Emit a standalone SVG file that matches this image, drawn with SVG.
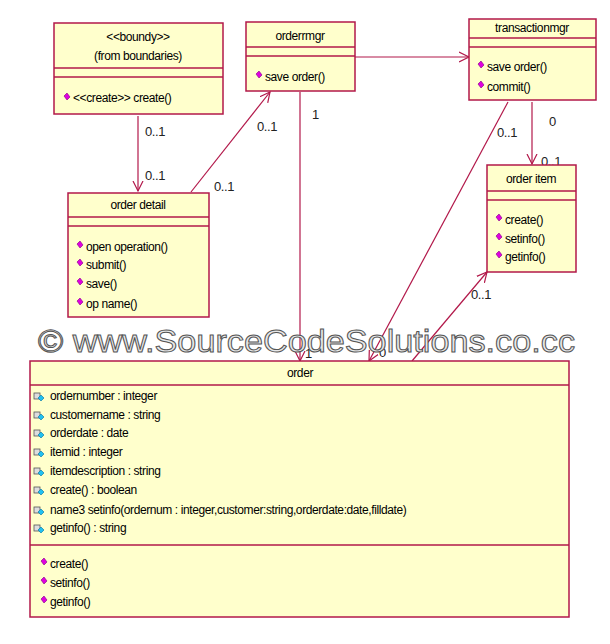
<svg xmlns="http://www.w3.org/2000/svg" width="610" height="644" viewBox="0 0 610 644">
<style>
.b{fill:#ffffcc;stroke:#b2184a;stroke-width:1.5}
.l{stroke:#b2184a;stroke-width:1.5}
text{font-family:"Liberation Sans",Arial,sans-serif;font-size:12px;fill:#000;letter-spacing:-0.4px}
.c{text-anchor:middle}
.m{font-size:13px;fill:#222}
.w{font-size:32px;fill:#e8e8e8;stroke:#555;stroke-width:1;letter-spacing:0}
.cn{fill:none;stroke:#b2184a;stroke-width:1.2}
</style>
<defs>
<marker id="a" markerWidth="12" markerHeight="12" refX="10" refY="6" orient="auto" markerUnits="userSpaceOnUse"><path d="M0,1 L10,6 L0,11" fill="none" stroke="#b2184a" stroke-width="1.2"/></marker>
<g id="op"><path d="M0,-4 L3,-7 L6,-3 L3,0 Z" fill="#e000e0" stroke="#800080" stroke-width="0.6"/></g>
<g id="at"><rect x="0" y="-8" width="6" height="6" fill="#ddd" stroke="#555" stroke-width="0.8"/><path d="M4,-3 L7,-6 L10,-3 L7,0 Z" fill="#20c0f0" stroke="#0070a0" stroke-width="0.6"/></g>
</defs>
<g id="connectors">
<line class="cn" x1="138" y1="116" x2="138" y2="191" marker-end="url(#a)"/>
<line class="cn" x1="191" y1="192" x2="270" y2="92" marker-end="url(#a)"/>
<line class="cn" x1="355" y1="57" x2="469" y2="57" marker-end="url(#a)"/>
<line class="cn" x1="300" y1="92" x2="300" y2="361" marker-end="url(#a)"/>
<line class="cn" x1="508" y1="102" x2="369" y2="361" marker-end="url(#a)"/>
<line class="cn" x1="532" y1="102" x2="532" y2="164" marker-end="url(#a)"/>
<line class="cn" x1="412" y1="361" x2="487" y2="272" marker-end="url(#a)"/>
<text class="m" x="145" y="136">0..1</text>
<text class="m" x="145" y="180">0..1</text>
<text class="m" x="257" y="131">0..1</text>
<text class="m" x="214" y="191">0..1</text>
<text class="m" x="312" y="119">1</text>
<text class="m" x="305" y="358">1</text>
<text class="m" x="497" y="137">0..1</text>
<text class="m" x="379" y="357">0</text>
<text class="m" x="549" y="126">0</text>
<text class="m" x="541" y="166">0..1</text>
<text class="m" x="471" y="299">0..1</text>
</g>
<g id="boundy">
<rect class="b" x="54" y="23" width="169" height="91"/>
<line class="l" x1="54" y1="68" x2="223" y2="68"/><line class="l" x1="54" y1="77" x2="223" y2="77"/>
<text class="c" x="138" y="41">&lt;&lt;boundy&gt;&gt;</text>
<text class="c" x="138" y="60">(from boundaries)</text>
<use href="#op" x="64" y="100"/><text x="73" y="102">&lt;&lt;create&gt;&gt; create()</text>
</g>
<g id="orderrmgr">
<rect class="b" x="246" y="22" width="109" height="69"/>
<line class="l" x1="246" y1="47" x2="355" y2="47"/><line class="l" x1="246" y1="56" x2="355" y2="56"/>
<text class="c" x="300" y="40">orderrmgr</text>
<use href="#op" x="256" y="78"/><text x="265" y="81">save order()</text>
</g>
<g id="transactionmgr">
<rect class="b" x="469" y="19" width="127" height="81"/>
<line class="l" x1="469" y1="38" x2="596" y2="38"/><line class="l" x1="469" y1="47" x2="596" y2="47"/>
<text class="c" x="532" y="32">transactionmgr</text>
<use href="#op" x="478" y="68"/><text x="487" y="71">save order()</text>
<use href="#op" x="478" y="88"/><text x="487" y="91">commit()</text>
</g>
<g id="orderdetail">
<rect class="b" x="68" y="193" width="141" height="124"/>
<line class="l" x1="68" y1="217" x2="209" y2="217"/><line class="l" x1="68" y1="226" x2="209" y2="226"/>
<text class="c" x="138" y="209">order detail</text>
<use href="#op" x="77" y="248"/><text x="86" y="251">open operation()</text>
<use href="#op" x="77" y="266"/><text x="86" y="269">submit()</text>
<use href="#op" x="77" y="285"/><text x="86" y="288">save()</text>
<use href="#op" x="77" y="305"/><text x="86" y="308">op name()</text>
</g>
<g id="orderitem">
<rect class="b" x="487" y="165" width="89" height="107"/>
<line class="l" x1="487" y1="191" x2="576" y2="191"/><line class="l" x1="487" y1="200" x2="576" y2="200"/>
<text class="c" x="531" y="183">order item</text>
<use href="#op" x="496" y="221"/><text x="505" y="224">create()</text>
<use href="#op" x="496" y="240"/><text x="505" y="243">setinfo()</text>
<use href="#op" x="496" y="258"/><text x="505" y="261">getinfo()</text>
</g>
<g id="order">
<rect class="b" x="30" y="361" width="539" height="256"/>
<line class="l" x1="30" y1="385" x2="569" y2="385"/><line class="l" x1="30" y1="545" x2="569" y2="545"/>
<text class="c" x="300" y="377">order</text>
<use href="#at" x="34" y="401"/><text x="50" y="400">ordernumber : integer</text>
<use href="#at" x="34" y="420"/><text x="50" y="419">customername : string</text>
<use href="#at" x="34" y="438"/><text x="50" y="437">orderdate : date</text>
<use href="#at" x="34" y="457"/><text x="50" y="456">itemid : integer</text>
<use href="#at" x="34" y="476"/><text x="50" y="475">itemdescription : string</text>
<use href="#at" x="34" y="495"/><text x="50" y="494">create() : boolean</text>
<use href="#at" x="34" y="515"/><text x="50" y="514">name3 setinfo(ordernum : integer,customer:string,orderdate:date,filldate)</text>
<use href="#at" x="34" y="533"/><text x="50" y="532">getinfo() : string</text>
<use href="#op" x="41" y="565"/><text x="50" y="568">create()</text>
<use href="#op" x="41" y="584"/><text x="50" y="587">setinfo()</text>
<use href="#op" x="41" y="603"/><text x="50" y="606">getinfo()</text>
</g>
<text class="w" x="38" y="352" textLength="537" lengthAdjust="spacingAndGlyphs">© www.SourceCodeSolutions.co.cc</text>
</svg>
